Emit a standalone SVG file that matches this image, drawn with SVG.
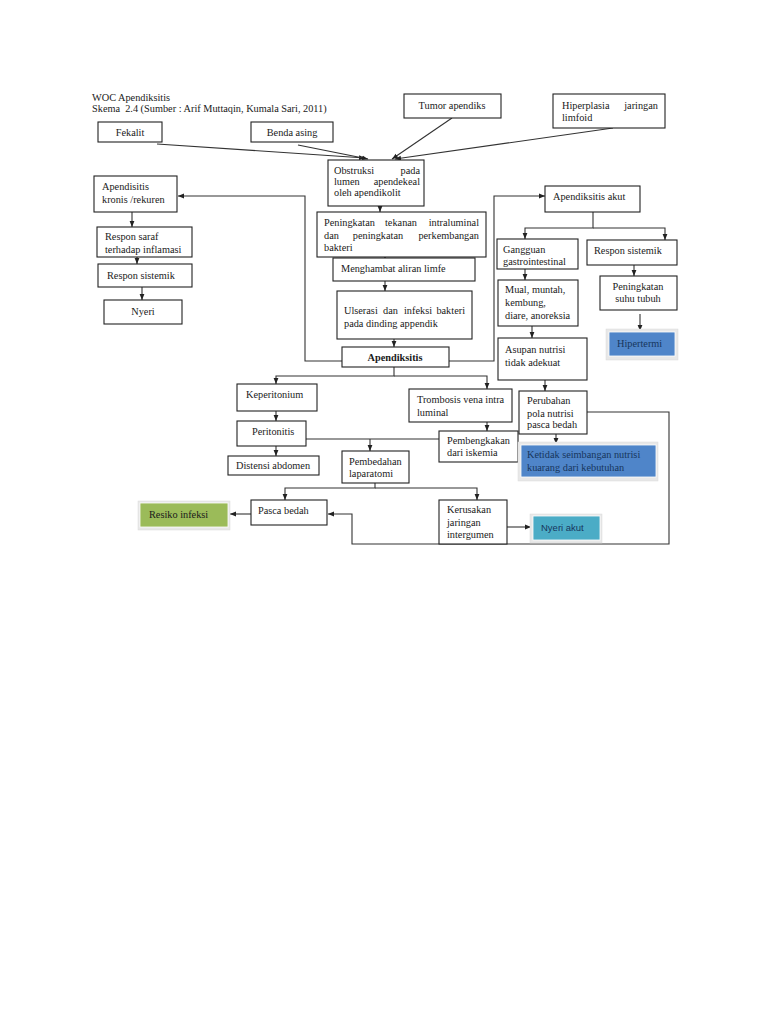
<svg xmlns="http://www.w3.org/2000/svg" width="768" height="1024" viewBox="0 0 768 1024">
<style>
.b{fill:#fff;stroke:#222;stroke-width:1.1}
.t{font-family:"Liberation Serif","Times New Roman",serif;font-size:10.3px;fill:#1a1a1a}
.bold{font-weight:bold}
.m{text-anchor:middle}
.e{text-anchor:end}
.n{fill:#17365d}
.s{font-family:"Liberation Sans",Arial,sans-serif;font-size:9.5px;fill:#17365d}
.c{stroke:#333;stroke-width:1.1;fill:none}
.a{marker-end:url(#ah)}
.g{fill:#e8e8e8;stroke:#dadada;stroke-width:0.5}
</style>
<defs>
<marker id="ah" viewBox="0 0 10 10" refX="10" refY="5" markerWidth="6" markerHeight="6" markerUnits="userSpaceOnUse" orient="auto"><path d="M0,1 L10,5 L0,9 z" fill="#222"/></marker>
</defs>
<rect width="768" height="1024" fill="#fff"/>
<g id="title">
<text class="t" x="92" y="101">WOC Apendiksitis</text>
<text class="t" x="92" y="112">Skema&#160; 2.4 (Sumber : Arif Muttaqin, Kumala Sari, 2011)</text>
</g>
<g id="connectors">
<path class="c a" d="M157,144 L365,158"/>
<path class="c a" d="M298,145 L368,159"/>
<path class="c a" d="M452,118 L392,159"/>
<path class="c a" d="M613,128 L395,159"/>
<path class="c a" d="M380,206 V212"/>
<path class="c a" d="M385,254 V259"/>
<path class="c a" d="M385,281 V291"/>
<path class="c a" d="M394,339 V347"/>
<path class="c a" d="M342,361 H305 V196 H178"/>
<path class="c a" d="M449,361 H494 V196 H545"/>
<path class="c a" d="M132,212 V227"/>
<path class="c a" d="M137,257 V264"/>
<path class="c a" d="M142,287 V300"/>
<path class="c a" d="M593,212 V228 H525 V239"/>
<path class="c a" d="M593,228 H665 V240"/>
<path class="c a" d="M525,269 V280"/>
<path class="c a" d="M634,265 V276"/>
<path class="c a" d="M640,314 V331"/>
<path class="c a" d="M532,326 V338"/>
<path class="c a" d="M545,380 V391"/>
<path class="c a" d="M394,367 V376 H276 V384"/>
<path class="c a" d="M394,376 H487 V389"/>
<path class="c a" d="M276,411 V421"/>
<path class="c a" d="M276,446 V456"/>
<path class="c a" d="M487,422 V431"/>
<path class="c" d="M306,439 H439"/>
<path class="c a" d="M370,439 V451"/>
<path class="c a" d="M375,483 V488 H285 V500"/>
<path class="c a" d="M375,488 H477 V500"/>
<path class="c a" d="M251,514 H230"/>
<path class="c a" d="M507,527 H531"/>
<path class="c a" d="M556,434 V444"/>
<path class="c a" d="M587,412 H669 V544 H352 V514 H328"/>
</g>
<g id="fekalit"><rect class="b" x="98" y="122" width="64" height="20"/><text class="t m" x="130" y="136">Fekalit</text></g>
<g id="benda-asing"><rect class="b" x="251" y="122" width="82" height="20"/><text class="t m" x="292" y="136">Benda asing</text></g>
<g id="tumor"><rect class="b" x="404" y="94" width="97" height="24"/><text class="t m" x="452" y="109">Tumor apendiks</text></g>
<g id="hiperplasia"><rect class="b" x="553" y="94" width="112" height="34"/>
<text class="t" x="562" y="109">Hiperplasia</text><text class="t e" x="658" y="109">jaringan</text>
<text class="t" x="562" y="121">limfoid</text></g>
<g id="obstruksi"><rect class="b" x="328" y="160" width="96" height="46"/>
<text class="t" x="334" y="174">Obstruksi</text><text class="t e" x="420" y="174">pada</text>
<text class="t" x="334" y="185">lumen</text><text class="t e" x="420" y="185">apendekeal</text>
<text class="t" x="334" y="196">oleh apendikolit</text></g>
<g id="peningkatan-tekanan"><rect class="b" x="317" y="212" width="169" height="45"/>
<text class="t" x="324" y="226">Peningkatan</text><text class="t m" x="401" y="226">tekanan</text><text class="t e" x="479" y="226">intraluminal</text>
<text class="t" x="324" y="239">dan</text><text class="t m" x="378" y="239">peningkatan</text><text class="t e" x="479" y="239">perkembangan</text>
<text class="t" x="324" y="251">bakteri</text></g>
<g id="menghambat"><rect class="b" x="333" y="258" width="142" height="23"/><text class="t" x="341" y="272">Menghambat aliran limfe</text></g>
<g id="ulserasi"><rect class="b" x="337" y="291" width="135" height="48"/>
<text class="t" x="344" y="314">Ulserasi</text><text class="t" x="383" y="314">dan</text><text class="t" x="404" y="314">infeksi</text><text class="t e" x="465" y="314">bakteri</text>
<text class="t" x="344" y="327">pada dinding appendik</text></g>
<g id="apendiksitis"><rect class="b" x="342" y="347" width="107" height="20"/><text class="t bold m" x="395" y="361">Apendiksitis</text></g>
<g id="kronis"><rect class="b" x="94" y="176" width="83" height="36"/>
<text class="t" x="102" y="190">Apendisitis</text><text class="t" x="102" y="203">kronis /rekuren</text></g>
<g id="respon-saraf"><rect class="b" x="97" y="227" width="95" height="30"/>
<text class="t" x="105" y="240">Respon saraf</text><text class="t" x="105" y="253">terhadap inflamasi</text></g>
<g id="respon-sistemik-kiri"><rect class="b" x="98" y="264" width="94" height="23"/><text class="t" x="107" y="279">Respon sistemik</text></g>
<g id="nyeri"><rect class="b" x="104" y="300" width="78" height="24"/><text class="t m" x="143" y="315">Nyeri</text></g>
<g id="apendiksitis-akut"><rect class="b" x="545" y="186" width="95" height="26"/><text class="t" x="553" y="200">Apendiksitis akut</text></g>
<g id="gangguan"><rect class="b" x="497" y="239" width="81" height="30"/>
<text class="t" x="503" y="253">Gangguan</text><text class="t" x="503" y="265">gastrointestinal</text></g>
<g id="respon-sistemik-kanan"><rect class="b" x="587" y="240" width="90" height="25"/><text class="t" x="594" y="254">Respon sistemik</text></g>
<g id="peningkatan-suhu"><rect class="b" x="600" y="276" width="77" height="34"/>
<text class="t m" x="638" y="290">Peningkatan</text><text class="t m" x="638" y="302">suhu tubuh</text></g>
<g id="hipertermi"><rect class="g" x="606" y="329" width="72" height="31"/><rect x="609" y="332" width="66" height="24" fill="#4f85c9" stroke="#fff" stroke-width="0.8"/><text class="t n" x="617" y="347">Hipertermi</text></g>
<g id="mual"><rect class="b" x="498" y="280" width="80" height="46"/>
<text class="t" x="505" y="293">Mual, muntah,</text><text class="t" x="505" y="306">kembung,</text><text class="t" x="505" y="319">diare, anoreksia</text></g>
<g id="asupan"><rect class="b" x="498" y="338" width="89" height="42"/>
<text class="t" x="505" y="353">Asupan nutrisi</text><text class="t" x="505" y="366">tidak adekuat</text></g>
<g id="keperitonium"><rect class="b" x="237" y="384" width="80" height="27"/><text class="t" x="246" y="398">Keperitonium</text></g>
<g id="peritonitis"><rect class="b" x="237" y="421" width="69" height="25"/><text class="t" x="252" y="435">Peritonitis</text></g>
<g id="distensi"><rect class="b" x="228" y="456" width="91" height="19"/><text class="t" x="236" y="469">Distensi abdomen</text></g>
<g id="trombosis"><rect class="b" x="409" y="389" width="103" height="33"/>
<text class="t" x="417" y="403">Trombosis vena intra</text><text class="t" x="417" y="416">luminal</text></g>
<g id="pembengkakan"><rect class="b" x="439" y="431" width="79" height="31"/>
<text class="t" x="447" y="444">Pembengkakan</text><text class="t" x="447" y="456">dari iskemia</text></g>
<g id="pembedahan"><rect class="b" x="342" y="451" width="67" height="32"/>
<text class="t" x="349" y="465">Pembedahan</text><text class="t" x="349" y="477">laparatomi</text></g>
<g id="pasca-bedah"><rect class="b" x="251" y="500" width="76" height="25"/><text class="t" x="258" y="514">Pasca bedah</text></g>
<g id="kerusakan"><rect class="b" x="439" y="500" width="68" height="44"/>
<text class="t" x="447" y="513">Kerusakan</text><text class="t" x="447" y="526">jaringan</text><text class="t" x="447" y="538">intergumen</text></g>
<g id="perubahan"><rect class="b" x="519" y="391" width="68" height="43"/>
<text class="t" x="527" y="404">Perubahan</text><text class="t" x="527" y="417">pola nutrisi</text><text class="t" x="527" y="428">pasca bedah</text></g>
<g id="ketidakseimbangan"><rect class="g" x="518" y="442" width="140" height="39"/><rect x="521" y="445" width="135" height="32" fill="#4f85c9" stroke="#fff" stroke-width="0.8"/>
<text class="t n" x="527" y="458">Ketidak seimbangan nutrisi</text><text class="t n" x="527" y="471">kuarang dari kebutuhan</text></g>
<g id="nyeri-akut"><rect class="g" x="530" y="514" width="72" height="29"/><rect x="533" y="516" width="67" height="24" fill="#4bacc6" stroke="#fff" stroke-width="0.8"/><text class="s" x="541" y="531">Nyeri akut</text></g>
<g id="resiko-infeksi"><rect class="g" x="138" y="501" width="92" height="29"/><rect x="140" y="503" width="88" height="24" fill="#9bbb59" stroke="#fff" stroke-width="0.8"/><text class="t" x="149" y="518" fill="#1e2a10">Resiko infeksi</text></g>
</svg>
